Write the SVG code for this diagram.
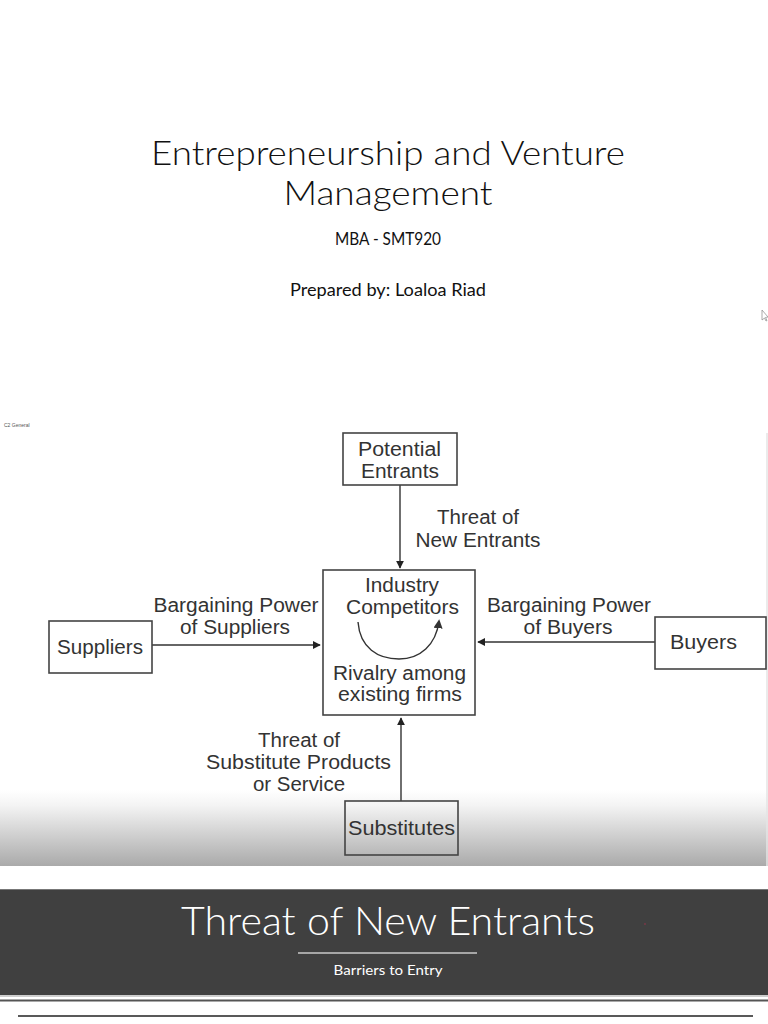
<svg xmlns="http://www.w3.org/2000/svg" width="768" height="1024" viewBox="0 0 768 1024">
<defs>
<style>
.t{font-family:Lato,"Open Sans","Liberation Sans",sans-serif;fill:#111;text-anchor:middle}
.d{font-family:"Liberation Sans",Arial,sans-serif;font-size:19.5px;fill:#333;text-anchor:middle}
.box{fill:none;stroke:#444;stroke-width:1.6}
.con{fill:none;stroke:#333;stroke-width:1.4}
</style>
<marker id="ah" viewBox="0 0 10 10" refX="9" refY="5" markerWidth="8" markerHeight="8" markerUnits="userSpaceOnUse" orient="auto">
<path d="M0,0 L10,5 L0,10 z" fill="#222"/>
</marker>
<marker id="ah2" viewBox="0 0 10 10" refX="8" refY="5" markerWidth="9" markerHeight="9" markerUnits="userSpaceOnUse" orient="auto">
<path d="M0,0 L10,5 L0,10 z" fill="#333"/>
</marker>
<linearGradient id="fade" x1="0" y1="0" x2="0" y2="1">
<stop offset="0" stop-color="#ffffff"/>
<stop offset="0.2" stop-color="#f4f4f4"/>
<stop offset="1" stop-color="#aaaaaa"/>
</linearGradient>
</defs>
<rect width="768" height="1024" fill="#ffffff"/>
<g id="title-slide">
<text class="t" x="388" y="165" font-size="34" textLength="474" lengthAdjust="spacingAndGlyphs" font-weight="300">Entrepreneurship and Venture</text>
<text class="t" x="388" y="205" font-size="34" textLength="209" lengthAdjust="spacingAndGlyphs" font-weight="300">Management</text>
<text class="t" x="388" y="245" font-size="17" textLength="106" lengthAdjust="spacingAndGlyphs">MBA - SMT920</text>
<text class="t" x="388" y="296" font-size="18" textLength="196" lengthAdjust="spacingAndGlyphs">Prepared by: Loaloa Riad</text>
<path d="M762,310 L762,320 L764.5,318 L766,321 L767,320.5 L765.5,317.5 L768,317 Z" fill="#fff" stroke="#888" stroke-width="0.7"/>
</g>
<g id="diagram-slide">
<rect x="0" y="790" width="768" height="76" fill="url(#fade)"/>
<line x1="767" y1="433" x2="767" y2="866" stroke="#e4e4e4" stroke-width="1.5"/>
<text x="4" y="427" font-family="'Liberation Sans',sans-serif" font-size="5" fill="#555">C2 General</text>
</g>
<g id="connectors">
<line class="con" x1="400" y1="485" x2="400" y2="568" marker-end="url(#ah)"/>
<line class="con" x1="152" y1="645" x2="320" y2="645" marker-end="url(#ah)"/>
<line class="con" x1="655" y1="642" x2="478" y2="642" marker-end="url(#ah)"/>
<line class="con" x1="401" y1="801" x2="401" y2="718" marker-end="url(#ah)"/>
<path class="con" d="M358,622 C360,648 378,659 399,659 C420,659 436,645 439,621" stroke="#444" marker-end="url(#ah2)"/>
<text class="d" x="478" y="524" textLength="82" lengthAdjust="spacingAndGlyphs">Threat of</text>
<text class="d" x="478" y="547" textLength="125" lengthAdjust="spacingAndGlyphs">New Entrants</text>
<text class="d" x="236" y="612" textLength="165" lengthAdjust="spacingAndGlyphs">Bargaining Power</text>
<text class="d" x="235" y="634" textLength="110" lengthAdjust="spacingAndGlyphs">of Suppliers</text>
<text class="d" x="569" y="612" textLength="164" lengthAdjust="spacingAndGlyphs">Bargaining Power</text>
<text class="d" x="568" y="634" textLength="89" lengthAdjust="spacingAndGlyphs">of Buyers</text>
<text class="d" x="299" y="747" textLength="82" lengthAdjust="spacingAndGlyphs">Threat of</text>
<text class="d" x="298.5" y="769" textLength="185" lengthAdjust="spacingAndGlyphs">Substitute Products</text>
<text class="d" x="299" y="791" textLength="92" lengthAdjust="spacingAndGlyphs">or Service</text>
</g>
<g id="potential-entrants">
<rect class="box" x="343" y="433" width="114" height="52"/>
<text class="d" x="399.5" y="456" textLength="83" lengthAdjust="spacingAndGlyphs">Potential</text>
<text class="d" x="400" y="478" textLength="78" lengthAdjust="spacingAndGlyphs">Entrants</text>
</g>
<g id="industry-competitors">
<rect class="box" x="323" y="570" width="152" height="145"/>
<text class="d" x="402" y="592" textLength="74" lengthAdjust="spacingAndGlyphs">Industry</text>
<text class="d" x="402.5" y="614" textLength="113" lengthAdjust="spacingAndGlyphs">Competitors</text>
<text class="d" x="399.5" y="680" textLength="133" lengthAdjust="spacingAndGlyphs">Rivalry among</text>
<text class="d" x="400" y="701" textLength="124" lengthAdjust="spacingAndGlyphs">existing firms</text>
</g>
<g id="suppliers">
<rect class="box" x="49" y="621" width="103" height="52"/>
<text class="d" x="100" y="654" textLength="86" lengthAdjust="spacingAndGlyphs">Suppliers</text>
</g>
<g id="buyers">
<rect class="box" x="655" y="617" width="111" height="52"/>
<text class="d" x="703.5" y="649" textLength="67" lengthAdjust="spacingAndGlyphs">Buyers</text>
</g>
<g id="substitutes">
<rect class="box" x="345" y="801" width="113" height="54"/>
<text class="d" x="401.5" y="835" textLength="107" lengthAdjust="spacingAndGlyphs">Substitutes</text>
</g>
<g id="section-slide">
<rect x="0" y="889" width="768" height="106" fill="#404040"/>
<line x1="0" y1="889.5" x2="768" y2="889.5" stroke="#777" stroke-width="1"/>
<text class="t" x="388" y="935" font-size="40" style="fill:#fff" font-weight="300" textLength="414" lengthAdjust="spacingAndGlyphs">Threat of New Entrants</text>
<line x1="298" y1="953" x2="477" y2="953" stroke="#c8c8c8" stroke-width="1.5"/>
<text class="t" x="388" y="975" font-size="14" style="fill:#fff" textLength="109" lengthAdjust="spacingAndGlyphs">Barriers to Entry</text>
<circle cx="645" cy="924" r="0.8" fill="#a0304a"/>
<line x1="0" y1="996" x2="768" y2="996" stroke="#bdbdbd" stroke-width="1.5"/>
<line x1="0" y1="1000.5" x2="768" y2="1000.5" stroke="#555" stroke-width="2"/>
<line x1="18" y1="1016" x2="753" y2="1016" stroke="#222" stroke-width="1.5"/>
</g>
</svg>
